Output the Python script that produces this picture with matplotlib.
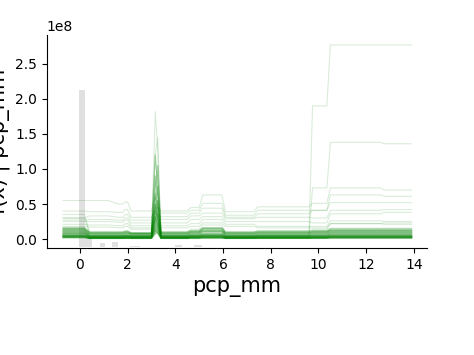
import numpy as np
import matplotlib
matplotlib.use('Agg')
import matplotlib.pyplot as plt

# segment start / end positions (pcp_mm) of the flat pieces of every ICE line
seg_start = [-0.7, 0.4, 1.6, 1.9, 2.15, 3.4, 4.65, 5.15, 6.1, 7.45, 9.75, 10.5, 12.75]
seg_end = [0.2, 1.2, 1.8, 2.0, 3.0, 4.5, 5.0, 5.95, 7.3, 9.6, 10.35, 12.6, 13.9]
peak_x = [3.16, 3.26]

# values in units of 1e8: 13 segment levels, then the two spike points
upper_lines = [
    [.55, .55, .50, .53, .40, .40, .45, .63, .39, .46, .51, .73, .70, .60, .45],
    [.40, .39, .38, .42, .31, .37, .41, .51, .34, .41, .41, .63, .61, .40, .55],
    [.35, .10, .10, .12, .08, .10, .14, .20, .10, .12, .14, .22, .21, .45, .30],
    [.30, .33, .31, .35, .27, .32, .37, .44, .31, .36, .41, .52, .52, .50, .35],
    [.27, .28, .27, .30, .23, .28, .33, .37, .29, .31, .30, .41, .42, .30, .48],
    [.25, .25, .24, .27, .19, .23, .28, .32, .25, .25, .23, .36, .38, .40, .30],
    [.21, .20, .19, .22, .16, .19, .22, .28, .21, .18, .18, .26, .25, .25, .35],
    [.18, .17, .16, .18, .14, .16, .18, .23, .18, .16, .16, .22, .23, .30, .20],
    [.30, .08, .08, .09, .07, .08, .10, .12, .08, .09, .10, .13, .13, .30, .22],
    [.05, .03, .03, .04, .03, .03, .04, .05, .03, .04, 1.90, 2.77, 2.77, 1.82, 1.30],
    [.08, .04, .04, .05, .04, .04, .05, .06, .04, .05, .73, 1.38, 1.36, 1.20, 1.45],
]

dense_lines = [
    [.16, .10, .10, .11, .09, .10, .12, .16, .10, .11, .12, .15, .15, 1.20, .80],
    [.15, .09, .09, .10, .08, .09, .11, .15, .09, .10, .11, .13, .13, .70, 1.05],
    [.14, .08, .08, .09, .08, .08, .10, .14, .08, .09, .10, .12, .12, .90, .60],
    [.13, .07, .07, .08, .07, .07, .09, .12, .07, .08, .09, .11, .11, .50, .75],
    [.12, .06, .06, .07, .06, .06, .08, .11, .06, .07, .08, .10, .10, .65, .45],
    [.11, .05, .05, .06, .05, .05, .07, .10, .05, .06, .07, .09, .09, .40, .55],
    [.10, .05, .05, .05, .05, .05, .06, .08, .05, .05, .06, .08, .08, .50, .35],
    [.09, .04, .04, .05, .04, .04, .05, .07, .04, .05, .05, .07, .07, .30, .45],
    [.08, .04, .04, .04, .04, .04, .05, .06, .04, .04, .05, .06, .06, .40, .28],
    [.07, .03, .03, .04, .03, .03, .04, .05, .03, .04, .04, .05, .05, .25, .36],
    [.06, .03, .03, .03, .03, .03, .04, .05, .03, .03, .04, .05, .05, .32, .22],
    [.05, .03, .03, .03, .03, .03, .03, .04, .03, .03, .03, .04, .04, .20, .28],
    [.05, .02, .02, .03, .02, .02, .03, .04, .02, .03, .03, .04, .04, .25, .18],
    [.04, .02, .02, .02, .02, .02, .03, .03, .02, .02, .03, .03, .03, .16, .22],
    [.04, .02, .02, .02, .02, .02, .02, .03, .02, .02, .02, .03, .03, .20, .14],
    [.03, .02, .02, .02, .02, .02, .02, .03, .02, .02, .02, .03, .03, .12, .18],
    [.03, .01, .01, .02, .01, .01, .02, .02, .01, .02, .02, .02, .02, .16, .10],
    [.03, .01, .01, .01, .01, .01, .02, .02, .01, .01, .02, .02, .02, .09, .14],
    [.02, .01, .01, .01, .01, .01, .01, .02, .01, .01, .01, .02, .02, .12, .08],
    [.02, .01, .01, .01, .01, .01, .01, .01, .01, .01, .01, .01, .01, .07, .10],
]

# gray histogram of pcp_mm at the bottom (left edge, right edge, height in 1e8)
hist_left = [-0.04, 0.21, 0.84, 1.34, 2.1, 3.98, 4.8]
hist_right = [0.21, 0.50, 1.05, 1.60, 2.5, 4.30, 5.1]
hist_height = [2.23, 0.12, 0.05, 0.07, 0.01, 0.03, 0.03]
hist_base = -0.11


def line_xy(vals):
    xs, ys = [], []
    for i in range(len(seg_start)):
        if i == 5:
            xs += peak_x
            ys += vals[-2:]
        xs += [seg_start[i], seg_end[i]]
        ys += [vals[i], vals[i]]
    return np.array(xs), np.array(ys) * 1e8


fig = plt.figure(figsize=(4.74, 3.55), dpi=100)
ax = fig.add_axes([0.099, 0.301, 0.802, 0.600])

ax.bar(hist_left, np.array(hist_height) * 1e8,
       width=np.array(hist_right) - np.array(hist_left),
       bottom=hist_base * 1e8, align='edge', color='#d9d9d9', alpha=0.8, zorder=1)

for vals in upper_lines:
    x, y = line_xy(vals)
    ax.plot(x, y, color='green', alpha=0.15, linewidth=0.8, zorder=2)
for vals in dense_lines:
    x, y = line_xy(vals)
    ax.plot(x, y, color='green', alpha=0.3, linewidth=1.0, zorder=2)

ax.set_xlim(-1.38, 14.55)
ax.set_ylim(-0.13e8, 2.91e8)
ax.set_xticks(range(0, 15, 2))
ax.set_yticks(np.arange(0, 2.6e8, 0.5e8))
ax.spines['top'].set_visible(False)
ax.spines['right'].set_visible(False)
ax.set_xlabel('pcp_mm', fontsize=15)
ax.set_ylabel('f(x) | pcp_mm', fontsize=15)

fig.savefig('out.png', dpi=100)
